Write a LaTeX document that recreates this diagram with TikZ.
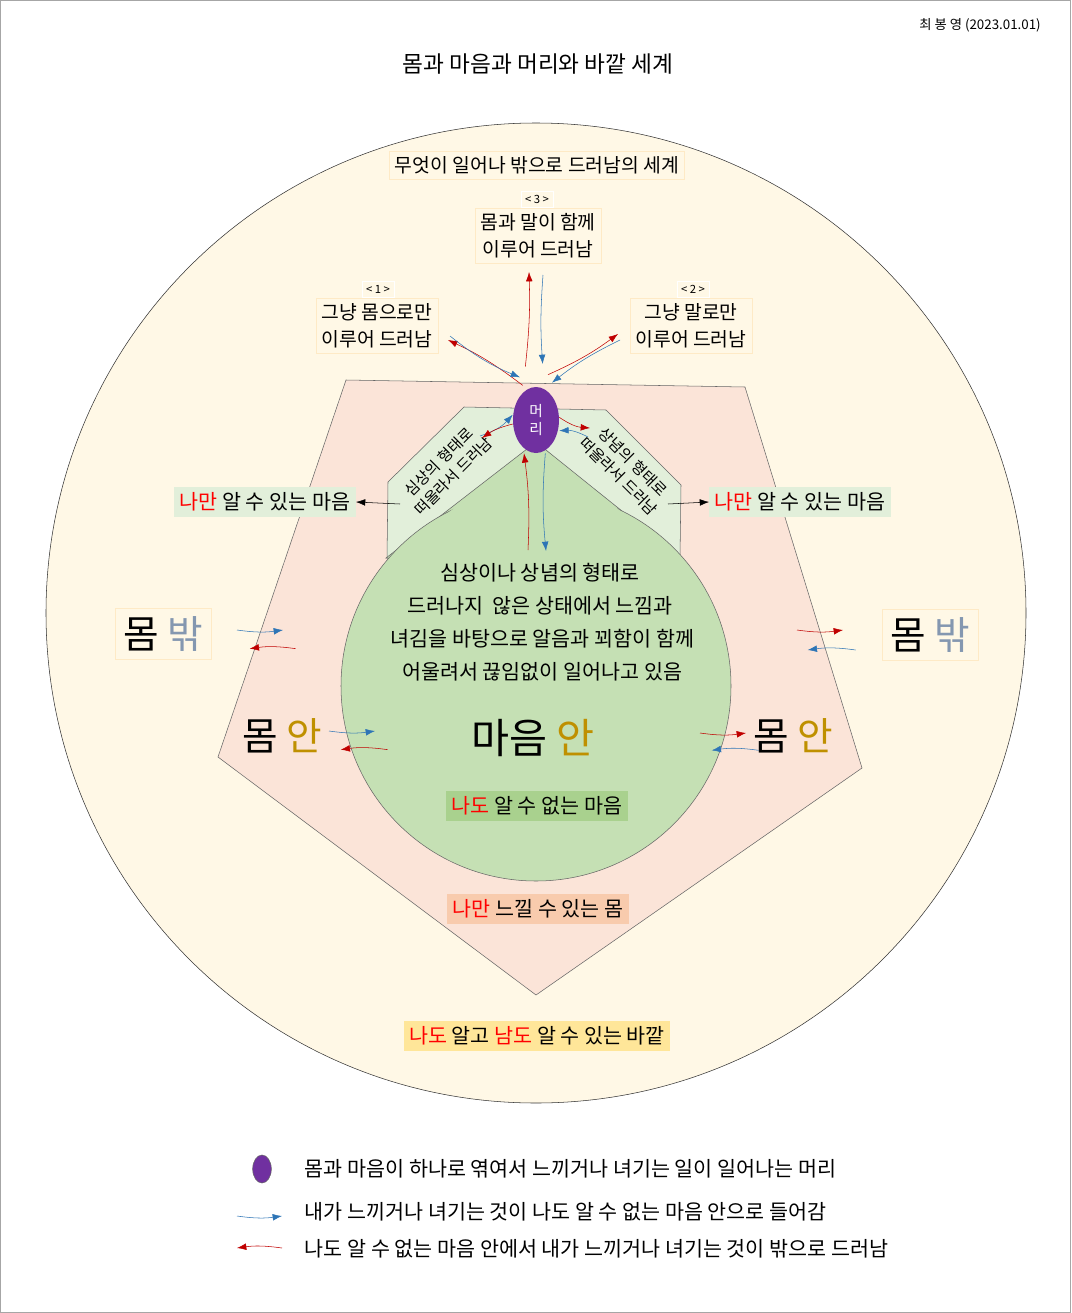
\documentclass[tikz,border=0pt]{standalone}
\usepackage{fontspec}
\setmainfont{Noto Sans CJK KR}
\usetikzlibrary{arrows.meta,shapes.geometric}
\definecolor{bgout}{HTML}{FFF8E6}
\definecolor{bgbody}{HTML}{FBE4D8}
\definecolor{bgmind}{HTML}{C5E0B4}
\definecolor{bgband}{HTML}{E2EFDA}
\definecolor{bgunk}{HTML}{A9D18E}
\definecolor{bgfeel}{HTML}{F8CBAD}
\definecolor{bgside}{HTML}{FFE699}
\definecolor{headc}{HTML}{7030A0}
\definecolor{blueA}{HTML}{2E75B6}
\definecolor{redA}{HTML}{C00000}
\definecolor{grayB}{HTML}{8497B0}
\definecolor{goldA}{HTML}{BF9000}
\definecolor{redT}{HTML}{FF0000}
\tikzset{
  txt/.style={inner sep=2pt, font=\fontsize{15.5}{20}\selectfont, align=center},
  boxed/.style={txt, draw=yellow!25!orange!20, inner sep=4pt, font=\fontsize{14.5}{20}\selectfont},
  tiny/.style={font=\fontsize{8.5}{10}\selectfont, inner sep=3pt, draw=white},
  big/.style={font=\fontsize{29}{32}\selectfont, inner sep=6pt},
  inarr/.style={blueA, thin, -{Latex[length=7pt,width=5pt]}},
  outarr/.style={redA, thin, -{Latex[length=7pt,width=5pt]}},
}
\begin{document}
\begin{tikzpicture}[x=0.75pt,y=0.75pt,yscale=-1,xscale=1]
\useasboundingbox (0,0) rectangle (1071,1313);
\draw[gray!70] (0.5,0.5) rectangle (1070.5,1312.5);

% world, body, mind
\draw[fill=bgout, draw=black!80] (536,613) circle (490);
\draw[fill=bgbody, draw=black!60] (346,380) -- (745,387) -- (862,768) -- (536,995) -- (218,757) -- cycle;
\draw[fill=bgband, draw=black!60] (387,558) -- (388,482) -- (464,407) -- (606,410) -- (681,485) -- (680,558) -- cycle;
\draw[fill=bgmind, draw=black!60] (536,442) -- (386,558) -- (683,560) -- cycle;
\draw[fill=bgmind, draw=black!60] (536,686) circle (195);
\fill[bgmind] (392,556) -- (536,445) -- (678,556) -- cycle;

% head
\node[ellipse, fill=headc, minimum width=34.5pt, minimum height=49.5pt, inner sep=0pt, text=white,
  font=\fontsize{11}{14}\selectfont, align=center] (head) at (536,420) {머\\리};

% titles
\node[font=\fontsize{10}{12}\selectfont] (author) at (980,25) {최 봉 영 (2023.01.01)};
\node[txt, font=\fontsize{17}{20}\selectfont] (title) at (538,64) {몸과 마음과 머리와 바깥 세계};
\node[boxed] (world) at (537,165) {무엇이 일어나 밖으로 드러남의 세계};

\node[tiny] (n3) at (537,199) {< 3 >};
\node[boxed] (both) at (538,236) {몸과 말이 함께\\이루어 드러남};
\node[tiny] (n1) at (378,289) {< 1 >};
\node[boxed] (bodyonly) at (377,326) {그냥 몸으로만\\이루어 드러남};
\node[tiny] (n2) at (693,289) {< 2 >};
\node[boxed] (wordonly) at (691,326) {그냥 말로만\\이루어 드러남};

% bands
\node[txt, rotate=45, font=\fontsize{11.5}{15}\selectfont] (image) at (446,469) {심상의 형태로\\떠올라서 드러남};
\node[txt, rotate=-45, font=\fontsize{11.5}{15}\selectfont] (thought) at (626,469) {상념의 형태로\\떠올라서 드러남};
\node[txt, fill=bgband, inner sep=4pt] (onlymeL) at (265,502) {\textcolor{redT}{나만} 알 수 있는 마음};
\node[txt, fill=bgband, inner sep=4pt] (onlymeR) at (800,502) {\textcolor{redT}{나만} 알 수 있는 마음};
\coordinate (bandL) at (400,504);
\coordinate (bandR) at (668,504);
\draw[-{Latex[length=7pt,width=5pt]}] (bandL) -- (onlymeL.east);
\draw[-{Latex[length=7pt,width=5pt]}] (bandR) -- (onlymeR.west);

% outer / inner body
\node[boxed, big] (outL) at (163,634) {몸 \textcolor{grayB}{밖}};
\node[boxed, big] (outR) at (930,635) {몸 \textcolor{grayB}{밖}};
\node[big] (inL) at (282,736) {몸 \textcolor{goldA}{안}};
\node[big] (inR) at (793,736) {몸 \textcolor{goldA}{안}};
\node[big, font=\fontsize{31}{34}\selectfont] (mind) at (533,738) {마음 \textcolor{goldA}{안}};

% mind text
\node[txt, font=\fontsize{15.5}{24.7}\selectfont] (desc) at (540,622)
  {심상이나 상념의 형태로\\드러나지 \ 않은 상태에서 느낌과\\ \ 녀김을 바탕으로 알음과 꾀함이 함께\\ \ 어울려서 끊임없이 일어나고 있음};
\node[txt, fill=bgunk, inner sep=4pt] (unknown) at (537,806) {\textcolor{redT}{나도} 알 수 없는 마음};
\node[txt, fill=bgfeel, inner sep=4pt] (feel) at (538,909) {\textcolor{redT}{나만} 느낄 수 있는 몸};
\node[txt, fill=bgside, inner sep=4pt] (outside) at (537,1036) {\textcolor{redT}{나도} 알고 \textcolor{redT}{남도} 알 수 있는 바깥};

% arrows around head
\coordinate (p1r) at (448,340); \coordinate (p1b) at (450,336);
\coordinate (p3r) at (529,272); \coordinate (p3b) at (543,275);
\coordinate (p2r) at (618,334); \coordinate (p2b) at (620,340);
\draw[outarr] ([xshift=-10,yshift=-26]head.center) to[bend left=6] (p1r);
\draw[inarr] (p1b) to[bend left=8] ([xshift=-12,yshift=-32]head.center);
\draw[outarr] ([xshift=-8,yshift=-40]head.center) to[bend left=4] (p3r);
\draw[inarr] (p3b) to[bend left=4] ([xshift=5,yshift=-42]head.center);
\draw[outarr] ([xshift=9,yshift=-34]head.center) to[bend left=6] (p2r);
\draw[inarr] (p2b) to[bend left=6] ([xshift=12,yshift=-28]head.center);
\coordinate (iL1) at (480,436); \coordinate (iL2) at (482,438);
\coordinate (iR1) at (590,428); \coordinate (iR2) at (588,437);
\draw[inarr] (iL1) to[bend left=15] ([yshift=-4]head.west);
\draw[outarr] ([yshift=3]head.west) to[bend left=10] (iL2);
\draw[outarr] ([yshift=-2]head.east) to[bend left=15] (iR1);
\draw[inarr] (iR2) to[bend left=15] ([yshift=8]head.east);
\coordinate (mindTop1) at (528,550); \coordinate (mindTop2) at (546,551);
\draw[outarr] (mindTop1) to[bend left=5] ([xshift=-9]head.south);
\draw[inarr] ([xshift=7]head.south) to[bend left=5] (mindTop2);

% arrows body in/out
\coordinate (ol) at (237,630); \coordinate (or) at (797,630);
\coordinate (il) at (329,731); \coordinate (ir) at (700,733);
\draw[inarr] (ol) to[bend left=8] ++(46,0);
\draw[outarr] ([xshift=44,yshift=14]ol) to[bend left=8] ++(-46,0);
\draw[outarr] (or) to[bend left=8] ++(46,0);
\draw[inarr] ([xshift=44,yshift=15]or) to[bend left=8] ++(-48,0);
\draw[inarr] (il) to[bend left=8] ++(46,0);
\draw[outarr] ([xshift=44,yshift=14]il) to[bend left=8] ++(-47,0);
\draw[outarr] (ir) to[bend left=8] ++(46,0);
\draw[inarr] ([xshift=44,yshift=13]ir) to[bend left=8] ++(-47,0);

% legend
\node[ellipse, fill=headc, draw=black!60, minimum width=14pt, minimum height=21pt, inner sep=0pt] (lhead) at (262,1169) {};
\node[txt, anchor=west] (lt1) at (302,1169) {몸과 마음이 하나로 엮여서 느끼거나 녀기는 일이 일어나는 머리};
\node[txt, anchor=west] (lt2) at (302,1212) {내가 느끼거나 녀기는 것이 나도 알 수 없는 마음 안으로 들어감};
\node[txt, anchor=west] (lt3) at (302,1249) {나도 알 수 없는 마음 안에서 내가 느끼거나 녀기는 것이 밖으로 드러남};
\coordinate (lb) at (237,1216); \coordinate (lr) at (282,1248);
\draw[inarr] (lb) to[bend left=8] ++(45,0);
\draw[outarr] (lr) to[bend left=8] ++(-45,0);
\end{tikzpicture}
\end{document}
